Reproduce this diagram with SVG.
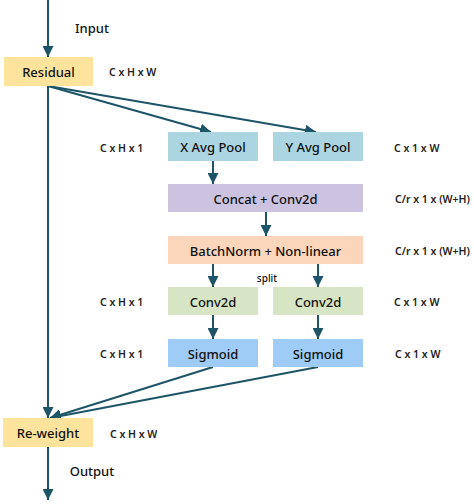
<svg xmlns="http://www.w3.org/2000/svg" width="474" height="504" viewBox="0 0 474 504">
<defs>
<marker id="ah" viewBox="0 0 10 10" refX="10" refY="5" markerWidth="5.5" markerHeight="5.5" markerUnits="strokeWidth" orient="auto">
<path d="M0,0 L10,5 L0,10 z" fill="#1d5468"/>
</marker>
<style>
.ln{stroke:#1d5468;stroke-width:2;fill:none}
.lab{font-family:"Noto Sans","Liberation Sans",sans-serif;font-size:13px;font-weight:500;fill:#111;text-anchor:middle;dominant-baseline:central}
.dim{font-family:"Noto Sans","Liberation Sans",sans-serif;font-size:10.5px;font-weight:600;fill:#222;dominant-baseline:central}
</style>
</defs>
<rect width="474" height="504" fill="#fff"/>
<g id="connectors">
<line class="ln" x1="48" y1="0" x2="48" y2="57" marker-end="url(#ah)"/>
<line class="ln" x1="48" y1="86" x2="48" y2="418" marker-end="url(#ah)"/>
<line class="ln" x1="48" y1="86" x2="211" y2="132" marker-end="url(#ah)"/>
<line class="ln" x1="48" y1="86" x2="316" y2="132" marker-end="url(#ah)"/>
<line class="ln" x1="213" y1="161" x2="213" y2="184" marker-end="url(#ah)"/>
<line class="ln" x1="266" y1="212" x2="266" y2="236" marker-end="url(#ah)"/>
<line class="ln" x1="213" y1="264" x2="213" y2="287" marker-end="url(#ah)"/>
<line class="ln" x1="318" y1="264" x2="318" y2="287" marker-end="url(#ah)"/>
<line class="ln" x1="213" y1="315" x2="213" y2="339" marker-end="url(#ah)"/>
<line class="ln" x1="318" y1="315" x2="318" y2="339" marker-end="url(#ah)"/>
<line class="ln" x1="213" y1="367" x2="50" y2="418" marker-end="url(#ah)"/>
<line class="ln" x1="318" y1="367" x2="50" y2="418" marker-end="url(#ah)"/>
<line class="ln" x1="48" y1="447" x2="48" y2="500" marker-end="url(#ah)"/>
</g>
<g id="residual"><rect x="4" y="57" width="89" height="29" fill="#fde39c"/><text class="lab" x="48.5" y="72">Residual</text></g>
<g id="xpool"><rect x="168" y="132" width="90" height="29" fill="#acd5e2"/><text class="lab" x="213" y="147">X Avg Pool</text></g>
<g id="ypool"><rect x="273" y="132" width="90" height="29" fill="#acd5e2"/><text class="lab" x="318" y="147">Y Avg Pool</text></g>
<g id="concat"><rect x="168" y="184" width="195" height="28" fill="#cbc3e0"/><text class="lab" x="265.5" y="198.5">Concat + Conv2d</text></g>
<g id="bn"><rect x="168" y="236" width="195" height="28" fill="#fcd6ba"/><text class="lab" x="265.5" y="250.5">BatchNorm + Non-linear</text></g>
<g id="convx"><rect x="168" y="287" width="90" height="28" fill="#d8e5c5"/><text class="lab" x="213" y="301.5">Conv2d</text></g>
<g id="convy"><rect x="273" y="287" width="90" height="28" fill="#d8e5c5"/><text class="lab" x="318" y="301.5">Conv2d</text></g>
<g id="sigx"><rect x="168" y="339" width="90" height="28" fill="#9fcbf7"/><text class="lab" x="213" y="353.5">Sigmoid</text></g>
<g id="sigy"><rect x="273" y="339" width="90" height="28" fill="#9fcbf7"/><text class="lab" x="318" y="353.5">Sigmoid</text></g>
<g id="reweight"><rect x="3" y="418" width="90" height="29" fill="#fde39c"/><text class="lab" x="48" y="433">Re-weight</text></g>
<g id="labels">
<text class="lab" x="92" y="28">Input</text>
<text class="lab" x="92" y="471">Output</text>
<text class="lab" x="267" y="278" style="font-size:10px">split</text>
<text class="dim" x="109" y="72">C x H x W</text>
<text class="dim" x="110" y="434">C x H x W</text>
<text class="dim" x="100" y="148">C x H x 1</text>
<text class="dim" x="100" y="302">C x H x 1</text>
<text class="dim" x="100" y="354">C x H x 1</text>
<text class="dim" x="394" y="148">C x 1 x W</text>
<text class="dim" x="394" y="302">C x 1 x W</text>
<text class="dim" x="395" y="354">C x 1 x W</text>
<text class="dim" x="395" y="199">C/r x 1 x (W+H)</text>
<text class="dim" x="395" y="251">C/r x 1 x (W+H)</text>
</g>
</svg>
